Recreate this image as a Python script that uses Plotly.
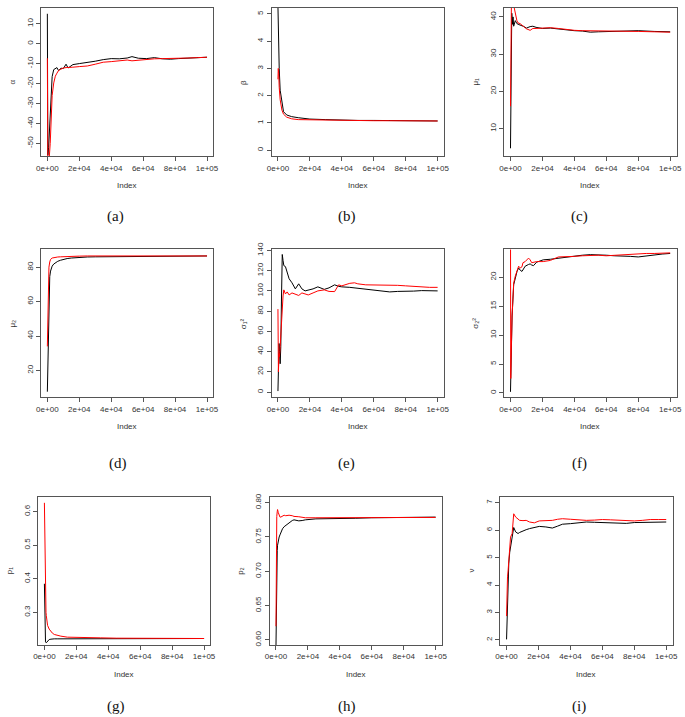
import plotly.graph_objects as go

# ---------------- data (running means of two MCMC chains) ----------------
x_tick_vals = [0, 20000, 40000, 60000, 80000, 100000]
x_tick_text = ["0e+00", "2e+04", "4e+04", "6e+04", "8e+04", "1e+05"]

# (a) alpha
a_idx = [0, 300, 800, 1200, 1800, 2400, 3000, 4000, 5000, 6000, 7000, 8500, 10000, 11700, 13000, 16000,
         20000, 25000, 30000, 35000, 40000, 45000, 50000, 53000, 57000, 62000, 67000, 72000, 77000, 82000,
         88000, 94000, 100000]
a_black = [15, -56, -52, -45, -36, -24, -16.5, -13, -12.3, -12, -13.5, -12.3, -12.5, -10.3, -12.2, -10.5,
           -10, -9.5, -8.8, -8, -7.5, -7.6, -7.2, -6.5, -7.3, -7.5, -7, -7.6, -7.8, -7.5, -7.2, -7.0, -6.8]
a_red = [-7.3, -57, -57, -57, -50, -38, -26, -19.7, -16.3, -14.8, -13.5, -12.8, -12.2, -12, -12, -11.8,
         -11.5, -11.2, -10.3, -9.3, -9, -8.6, -8.2, -8.6, -8.3, -7.8, -7.6, -7.5, -7.5, -7.4, -7.2, -7.0, -6.8]

# (b) beta
b_idx = [0, 200, 500, 800, 1400, 2500, 3500, 5500, 8600, 12700, 20000, 30000, 40000, 50000, 60000, 70000,
         80000, 90000, 100000]
b_black = [5.3, 4.5, 3.9, 3.0, 2.2, 1.7, 1.41, 1.29, 1.23, 1.19, 1.14, 1.12, 1.1, 1.09, 1.09, 1.09, 1.09, 1.08, 1.07]
b_red = [2.6, 3.0, 2.8, 2.3, 1.85, 1.47, 1.32, 1.21, 1.15, 1.12, 1.11, 1.1, 1.09, 1.08, 1.08, 1.08, 1.08, 1.07, 1.07]

# (c) mu1
c_idx = [0, 300, 600, 800, 1200, 1600, 2000, 2700, 3000, 4000, 4700, 6000, 8000, 10000, 12300, 14000,
         16000, 20000, 25000, 30000, 35000, 40000, 45000, 50000, 55000, 60000, 70000, 80000, 90000, 100000]
c_black = [4.7, 14, 33, 41, 38, 40, 37.5, 38.5, 39, 38.2, 38, 37.8, 37.5, 37, 37.4, 37.5, 37.2, 36.9, 37,
           36.7, 36.5, 36.3, 36.2, 35.9, 36.0, 36.1, 36.2, 36.3, 36.1, 36.0]
c_red = [16, 43, 45, 45, 45, 44, 43, 41.5, 40.3, 39, 38.4, 38.2, 37.5, 36.8, 36.4, 36.9, 36.9, 37.0, 37.1,
         36.9, 36.6, 36.4, 36.3, 36.3, 36.2, 36.1, 36.2, 36.1, 36.0, 35.9]

# (d) mu2
d_idx = [0, 200, 500, 800, 1000, 1500, 2000, 3000, 4000, 5000, 6500, 8200, 10000, 12400, 15000, 20000,
         25000, 30000, 40000, 50000, 60000, 70000, 80000, 90000, 100000]
d_black = [7.7, 17, 48, 62, 70, 74.5, 77.7, 80.6, 81.8, 82.5, 83.4, 84, 84.6, 85, 85.3, 85.7, 85.9, 86,
           86.1, 86.2, 86.3, 86.4, 86.4, 86.5, 86.5]
d_red = [34, 50, 63, 75, 80, 83, 84.5, 85.3, 85.6, 85.8, 85.9, 86, 86.1, 86.2, 86.3, 86.4, 86.5, 86.5,
         86.5, 86.5, 86.5, 86.5, 86.5, 86.5, 86.5]

# (e) sigma1^2
e_idx = [0, 300, 700, 1000, 1400, 1800, 2200, 2700, 3200, 3700, 4700, 5800, 7000, 8800, 10900, 13000,
         15000, 17000, 19000, 22000, 25000, 29000, 32000, 35500, 38000, 40000, 45000, 48000, 50000, 55000,
         60000, 65000, 70000, 75000, 80000, 85000, 90000, 95000, 100000]
e_black = [1, 20, 48, 40, 28, 45, 90, 136, 130, 125, 124, 117, 112, 108, 102, 107, 102, 100, 100.8, 102,
           104, 101.5, 103, 106, 104.5, 104, 103.5, 103, 102.5, 101.5, 100.3, 99.8, 99, 99.5, 99.3, 99.8,
           100.3, 100.5, 100]
e_red = [82, 20, 38, 35, 45, 60, 70, 78, 95, 101, 97, 99, 96, 98, 97, 95.5, 98, 97, 96, 98, 100, 101,
         99.5, 99.3, 106, 105, 107.5, 108, 107, 106, 106, 105.5, 106, 105.5, 105, 104.5, 103.6, 103.5, 103.5]

# (f) sigma2^2
f_idx = [0, 150, 400, 1000, 2000, 3000, 4100, 5100, 6100, 7200, 7800, 9200, 11300, 12300, 13300, 14400,
         16400, 20500, 25000, 30000, 35000, 40000, 45000, 50000, 55000, 60000, 65000, 70000, 75000, 80000,
         85000, 90000, 95000, 100000]
f_black = [0.2, 2, 4.7, 13.3, 18.7, 19.9, 21, 21.6, 21.2, 21, 21.3, 21.9, 22.2, 22.3, 22.1, 22, 22.6, 23,
           23.1, 23.3, 23.5, 23.7, 23.8, 23.9, 23.9, 23.8, 23.7, 23.7, 23.6, 23.5, 23.7, 23.9, 24.0, 24.1]
f_red = [30, 2.5, 6, 13.3, 19, 20.2, 21.3, 21.9, 21.6, 21.8, 22.5, 22.7, 23.3, 23.0, 22.5, 22.6, 22.7,
         22.7, 22.9, 23.5, 23.5, 23.6, 23.7, 23.8, 23.8, 23.7, 23.8, 23.8, 23.9, 24.1, 24.1, 24.1, 24.1, 24.2]

# (g) p1
g_idx = [0, 150, 300, 500, 700, 1000, 1200, 1500, 2000, 3000, 4100, 5000, 6200, 8000, 10300, 14400,
         20000, 27000, 35000, 45000, 55000, 65000, 75000, 82000, 90000, 100000]
g_black = [0.385, 0.30, 0.25, 0.225, 0.212, 0.210, 0.209, 0.211, 0.215, 0.219, 0.220, 0.221, 0.221, 0.221,
           0.221, 0.221, 0.222, 0.222, 0.222, 0.222, 0.222, 0.222, 0.222, 0.222, 0.222, 0.222]
g_red = [0.626, 0.54, 0.45, 0.36, 0.32, 0.30, 0.29, 0.28, 0.261, 0.25, 0.242, 0.238, 0.234, 0.231, 0.229,
         0.226, 0.225, 0.224, 0.224, 0.223, 0.223, 0.223, 0.223, 0.223, 0.222, 0.222]

# (h) p2
h_idx = [0, 200, 500, 800, 1000, 1400, 2000, 2500, 3000, 4100, 5100, 6100, 8200, 10200, 11300, 14300,
         16400, 18400, 25000, 30000, 40000, 50000, 60000, 70000, 80000, 90000, 100000]
h_black = [0.59, 0.65, 0.702, 0.73, 0.738, 0.745, 0.75, 0.753, 0.756, 0.762, 0.765, 0.767, 0.771, 0.774,
           0.775, 0.7735, 0.774, 0.775, 0.7764, 0.7768, 0.777, 0.7773, 0.778, 0.778, 0.7782, 0.7785, 0.779]
h_red = [0.62, 0.76, 0.78, 0.787, 0.79, 0.786, 0.782, 0.779, 0.779, 0.781, 0.7817, 0.781, 0.7817, 0.781,
         0.780, 0.7795, 0.779, 0.778, 0.778, 0.778, 0.7778, 0.7778, 0.778, 0.778, 0.7782, 0.7783, 0.7785]

# (i) nu
i_idx = [0, 300, 600, 1000, 1400, 2000, 2500, 3500, 4500, 5700, 7200, 8200, 10300, 12300, 14400, 17400,
         20500, 24600, 28700, 32000, 35000, 40000, 45000, 50000, 55000, 60000, 65000, 70000, 75000, 80000,
         85000, 90000, 95000, 100000]
i_black = [2.02, 2.7, 3.35, 4.2, 4.8, 5.2, 5.4, 5.76, 6.1, 5.94, 5.88, 5.92, 5.98, 6.02, 6.06, 6.1, 6.14,
           6.12, 6.08, 6.15, 6.22, 6.24, 6.27, 6.3, 6.29, 6.28, 6.26, 6.24, 6.25, 6.28, 6.29, 6.3, 6.31, 6.3]
i_red = [2.87, 3.95, 4.3, 4.55, 5.0, 5.64, 5.75, 5.88, 6.6, 6.48, 6.42, 6.36, 6.35, 6.36, 6.3, 6.27, 6.34,
         6.34, 6.36, 6.4, 6.42, 6.4, 6.38, 6.36, 6.37, 6.39, 6.38, 6.36, 6.35, 6.34, 6.36, 6.39, 6.39, 6.39]

y_labels = ["α", "β", "μ₁", "μ₂", "σ₁²", "σ₂²", "p₁", "p₂", "ν"]
captions = ["(a)", "(b)", "(c)", "(d)", "(e)", "(f)", "(g)", "(h)", "(i)"]

# ---------------- panel settings ----------------
panels = [
    (a_idx, a_black, a_red, [-56.4, 17.9], [-50, -40, -30, -20, -10, 0, 10], None),
    (b_idx, b_black, b_red, [-0.22, 5.22], [0, 1, 2, 3, 4, 5], None),
    (c_idx, c_black, c_red, [2.6, 42.4], [10, 20, 30, 40], None),
    (d_idx, d_black, d_red, [4.6, 90.3], [20, 40, 60, 80], None),
    (e_idx, e_black, e_red, [-4.9, 141], [0, 20, 40, 60, 80, 100, 120, 140], None),
    (f_idx, f_black, f_red, [-0.7, 24.8], [0, 5, 10, 15, 20], None),
    (g_idx, g_black, g_red, [0.203, 0.644], [0.3, 0.4, 0.5, 0.6], None),
    (h_idx, h_black, h_red, [0.5928, 0.8086], [0.60, 0.65, 0.70, 0.75, 0.80],
     ["0.60", "0.65", "0.70", "0.75", "0.80"]),
    (i_idx, i_black, i_red, [1.82, 7.22], [2, 3, 4, 5, 6, 7], None),
]

W, H = 685, 717
zero_px = [43, 277, 513, 43, 277, 513, 40, 275, 509]
rows = [(1, 151), (245.5, 395), (496, 646), ]
cap_pos = [(112, 212), (347, 212), (583, 212),
           (115, 462), (347, 462), (583, 462),
           (113, 708), (347, 708), (582, 708)]
BOXW = 175

fig = go.Figure()
annotations = []
tick_font = dict(family="Liberation Sans, Arial, sans-serif", size=8, color="#333333")

for k, (xs, yb, yr, yrange, yticks, yticktext) in enumerate(panels):
    n = k + 1
    left = zero_px[k] - 6.5
    right = left + BOXW
    top, bottom = rows[k // 3]
    xa = "x" if n == 1 else f"x{n}"
    ya = "y" if n == 1 else f"y{n}"
    fig.add_trace(go.Scatter(x=xs, y=yb, mode="lines", line=dict(color="black", width=1),
                             xaxis=xa, yaxis=ya, showlegend=False, hoverinfo="skip"))
    fig.add_trace(go.Scatter(x=xs, y=yr, mode="lines", line=dict(color="#ff0000", width=1),
                             xaxis=xa, yaxis=ya, showlegend=False, hoverinfo="skip"))
    axis_common = dict(showgrid=False, zeroline=False, showline=True, mirror=True,
                       linecolor="#555555", linewidth=1, ticks="outside", ticklen=4,
                       tickcolor="#555555", tickwidth=1, tickfont=tick_font)
    fig.layout[f"xaxis{'' if n == 1 else n}"] = dict(
        axis_common, domain=[left / W, right / W], range=[-4000, 104000],
        tickmode="array", tickvals=x_tick_vals, ticktext=x_tick_text,
        anchor=ya, fixedrange=True)
    fig.layout[f"yaxis{'' if n == 1 else n}"] = dict(
        axis_common, domain=[1 - bottom / H, 1 - top / H], range=yrange,
        tickmode="array", tickvals=yticks,
        ticktext=yticktext if yticktext else [str(v) for v in yticks],
        tickangle=-90, anchor=xa, fixedrange=True)
    # y-axis title
    annotations.append(dict(text=y_labels[k], x=(left - 29) / W, y=1 - (top + bottom) / 2 / H,
                            xref="paper", yref="paper", showarrow=False, textangle=-90,
                            xanchor="center", yanchor="middle",
                            font=dict(family="Liberation Sans, Arial, sans-serif", size=8, color="#333333")))
    # x-axis title
    annotations.append(dict(text="Index", x=(left + right) / 2 / W, y=1 - (bottom + 30) / H,
                            xref="paper", yref="paper", showarrow=False,
                            xanchor="center", yanchor="middle",
                            font=dict(family="Liberation Sans, Arial, sans-serif", size=8, color="#333333")))
    # caption
    cx, cy = cap_pos[k]
    annotations.append(dict(text=captions[k], x=cx / W, y=1 - cy / H, xref="paper", yref="paper",
                            showarrow=False, xanchor="center", yanchor="middle",
                            font=dict(family="Liberation Serif, DejaVu Serif, serif", size=15, color="#111111")))

fig.update_layout(width=W, height=H, margin=dict(l=0, r=0, t=0, b=0),
                  paper_bgcolor="white", plot_bgcolor="white", annotations=annotations)

fig.write_html("out.html", config={"displayModeBar": False})
